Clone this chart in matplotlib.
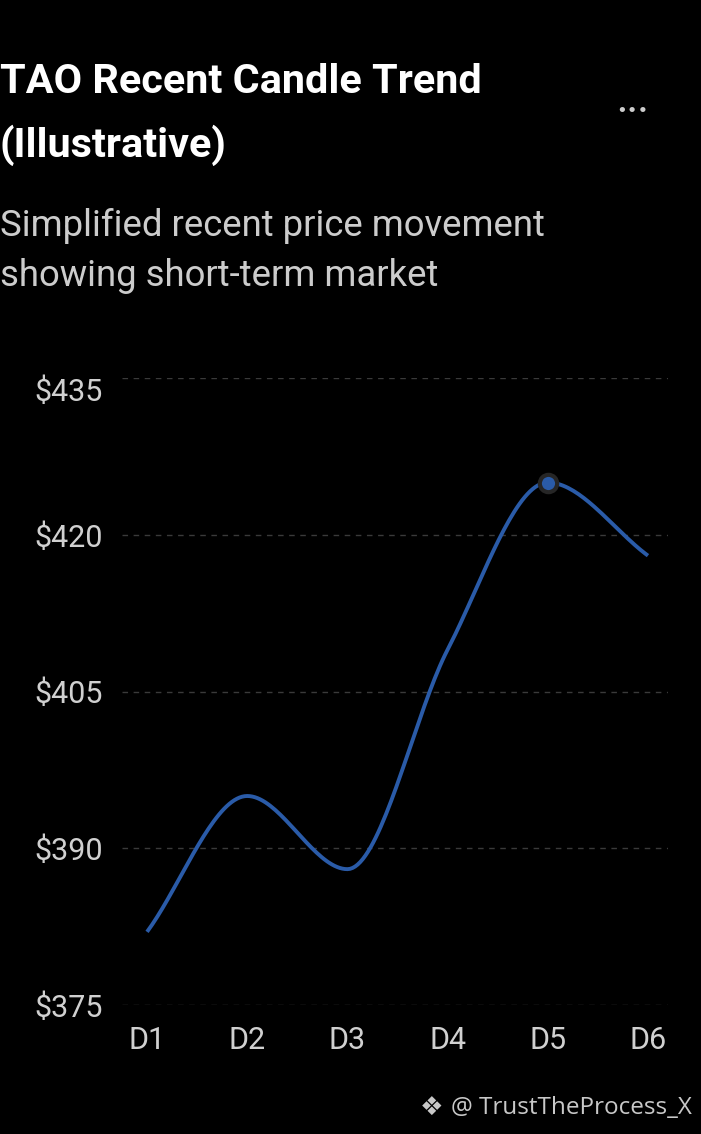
import matplotlib
matplotlib.use("Agg")
import matplotlib.pyplot as plt
import numpy as np

# data
days = ["D1", "D2", "D3", "D4", "D5", "D6"]
prices = [382, 395, 388, 409, 425, 418]
highlight = 4  # D5
yticks = [375, 390, 405, 420, 435]

W, H = 701, 1134


def monotone(xs, ys, n=40):
	# monotone cubic (Fritsch-Carlson), like chart.js 'monotone' mode
	xs = np.asarray(xs, float)
	ys = np.asarray(ys, float)
	d = np.diff(ys) / np.diff(xs)
	m = np.zeros(len(ys))
	m[0] = d[0]
	m[-1] = d[-1]
	for i in range(1, len(ys) - 1):
		if d[i - 1] * d[i] <= 0:
			m[i] = 0
		else:
			m[i] = (d[i - 1] + d[i]) / 2
	for i in range(len(d)):
		if d[i] == 0:
			m[i] = m[i + 1] = 0
			continue
		a = m[i] / d[i]
		b = m[i + 1] / d[i]
		s = a * a + b * b
		if s > 9:
			t = 3 / np.sqrt(s)
			m[i] = t * a * d[i]
			m[i + 1] = t * b * d[i]
	px, py = [], []
	for i in range(len(d)):
		h = xs[i + 1] - xs[i]
		t = np.linspace(0, 1, n)
		h00 = 2 * t**3 - 3 * t**2 + 1
		h10 = t**3 - 2 * t**2 + t
		h01 = -2 * t**3 + 3 * t**2
		h11 = t**3 - t**2
		px.extend(xs[i] + t * h)
		py.extend(h00 * ys[i] + h10 * h * m[i] + h01 * ys[i + 1] + h11 * h * m[i + 1])
	return px, py


fig = plt.figure(figsize=(W / 100, H / 100), dpi=100, facecolor="black")

left, right = 122, 668
top, bottom = 378, 1005
ax = fig.add_axes([left / W, 1 - bottom / H, (right - left) / W, (bottom - top) / H])
ax.set_facecolor("black")

x = np.arange(len(days))
sx, sy = monotone(x, prices)
ax.plot(sx, sy, color="#2a5ba8", lw=2.8, solid_capstyle="butt", zorder=3)
ax.plot(x[highlight], prices[highlight], "o", ms=12.5, mfc="#2a5ba8", mec="#262626", mew=3, zorder=4)

ax.set_xlim(-0.25, 5.2)
ax.set_ylim(375, 435)
ax.set_yticks(yticks)
ax.set_yticklabels(["$%d" % v for v in yticks])
ax.set_xticks(x)
ax.set_xticklabels(days)
for v in yticks:
	ax.axhline(v, color="#3a3a3a", lw=1, ls=(0, (4, 4)), zorder=1)
ax.tick_params(length=0, colors="#d0d0d0", labelsize=22)
ax.tick_params(axis="y", pad=14)
ax.tick_params(axis="x", pad=15)
for lab in ax.get_xticklabels() + ax.get_yticklabels():
	lab.set_family("Roboto")
# top label is kept inside the chart area, like the reference
ax.get_yticklabels()[-1].set_va("top")
ax.get_yticklabels()[-1].set_y(435)
for s in ax.spines.values():
	s.set_visible(False)

# titles
fig.text(0, 1 - 93 / H, "TAO Recent Candle Trend", color="white", fontsize=29.8,
	family="Roboto", weight="bold", va="baseline", ha="left")
fig.text(0, 1 - 157 / H, "(Illustrative)", color="white", fontsize=29.8,
	family="Roboto", weight="bold", va="baseline", ha="left")
fig.text(0, 1 - 236 / H, "Simplified recent price movement", color="#cccccc", fontsize=26.3,
	family="Roboto", va="baseline", ha="left")
fig.text(0, 1 - 286 / H, "showing short-term market", color="#cccccc", fontsize=26.3,
	family="Roboto", va="baseline", ha="left")

# menu dots
fig.text(632 / W, 1 - 111 / H, "\u2022\u2022\u2022", color="#cccccc", fontsize=13,
	ha="center", va="center", family="DejaVu Sans")

# watermark
fig.text(432 / W, 1 - 1108 / H, "\u2756", color="#c8c8c8", fontsize=19,
	ha="center", va="center", family="DejaVu Sans")
fig.text(692 / W, 1 - 1108 / H, "@ TrustTheProcess_X", color="#c8c8c8", fontsize=17.5,
	ha="right", va="center", family=["Open Sans", "DejaVu Sans"])

fig.savefig("out.png", dpi=100, facecolor="black")
